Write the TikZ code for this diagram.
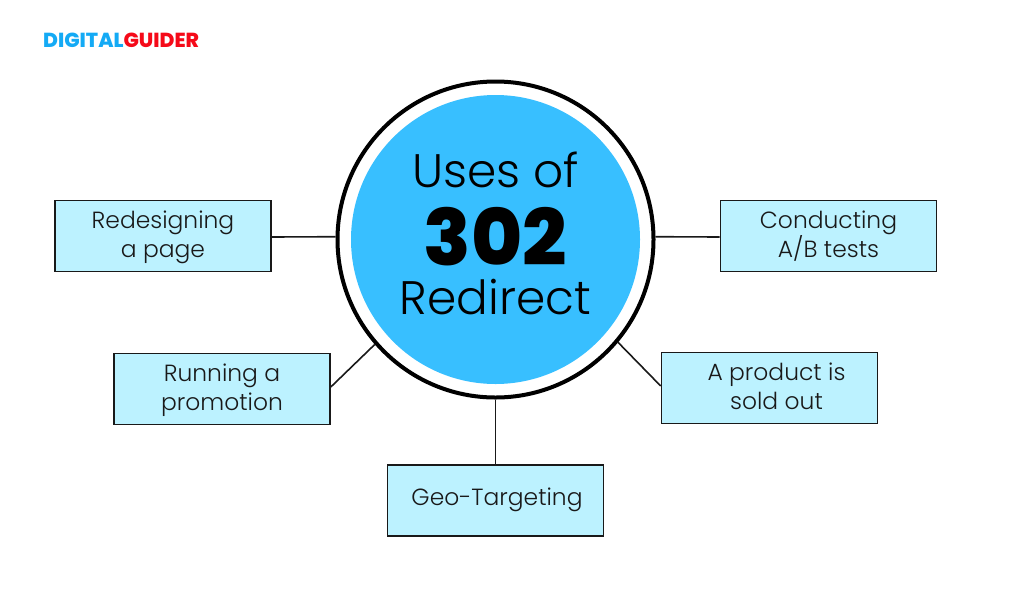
\documentclass[tikz,border=0pt]{standalone}
\usepackage{fontspec}
\setmainfont{Poppins Light}[BoldFont=Poppins ExtraBold]
\usepackage{xcolor}
\usetikzlibrary{positioning}
\setlength{\lineskiplimit}{-100pt}
\definecolor{hubblue}{RGB}{56,191,255}
\definecolor{boxblue}{RGB}{188,242,255}
\definecolor{logoblue}{RGB}{20,170,245}
\definecolor{logored}{RGB}{245,10,25}
\tikzset{
  usebox/.style={draw=black!90, line width=1.6pt, fill=boxblue, minimum width=216pt, minimum height=71pt, inner sep=0pt, align=center, text=black!90, text height=50pt, text depth=6.5pt, font=\fontsize{23.4}{29}\selectfont},
  link/.style={line width=1.6pt, black!90}
}

\begin{document}
\begin{tikzpicture}[x=1pt, y=-1pt]
            \useasboundingbox (0,0) rectangle (1024,603);
            \node[circle, draw=black, line width=4pt, minimum size=316pt, inner sep=0pt] (ring) at (495.5,239.5) {};
            \node[circle, fill=hubblue, minimum size=289pt, inner sep=0pt, align=center, text height=149pt, text depth=0pt, font=\fontsize{47}{49}\selectfont] (hub) at (495.5,239.5) {Uses of\\[29pt]{\fontsize{78}{49}\selectfont\bfseries 302}\\Redirect};
            \node[usebox] (redesign) at (163,236) {Redesigning\\a page};
            \node[usebox] (testing) at (828.5,236) {Conducting\\A/B tests};
            \node[usebox] (promo) at (222,389) {Running a\\promotion};
            \node[usebox] (soldout) at (769.5,388) {\hspace*{14pt}A product is\\\hspace*{14pt}sold out};
            \node[usebox, text height=17pt, text depth=6.5pt] (geo) at (495.5,500.5) {\hspace*{3pt}Geo-Targeting};
            \draw[link] ([yshift=-1pt]redesign.east) -- (ring.179);
            \draw[link] ([yshift=-1pt]testing.west) -- (ring.1);
            \draw[link] ([yshift=2pt]promo.east) -- (ring.221);
            \draw[link] ([yshift=2pt]soldout.west) -- (ring.-40.5);
            \draw[link] (geo.north) -- (ring.south);
            \node[anchor=west, inner sep=0pt, font=\fontsize{20.3}{20.3}\selectfont\bfseries] (logo) at (43,40) {\textcolor{logoblue}{DIGITAL}\textcolor{logored}{GUIDER}};
\end{tikzpicture}
\end{document}
